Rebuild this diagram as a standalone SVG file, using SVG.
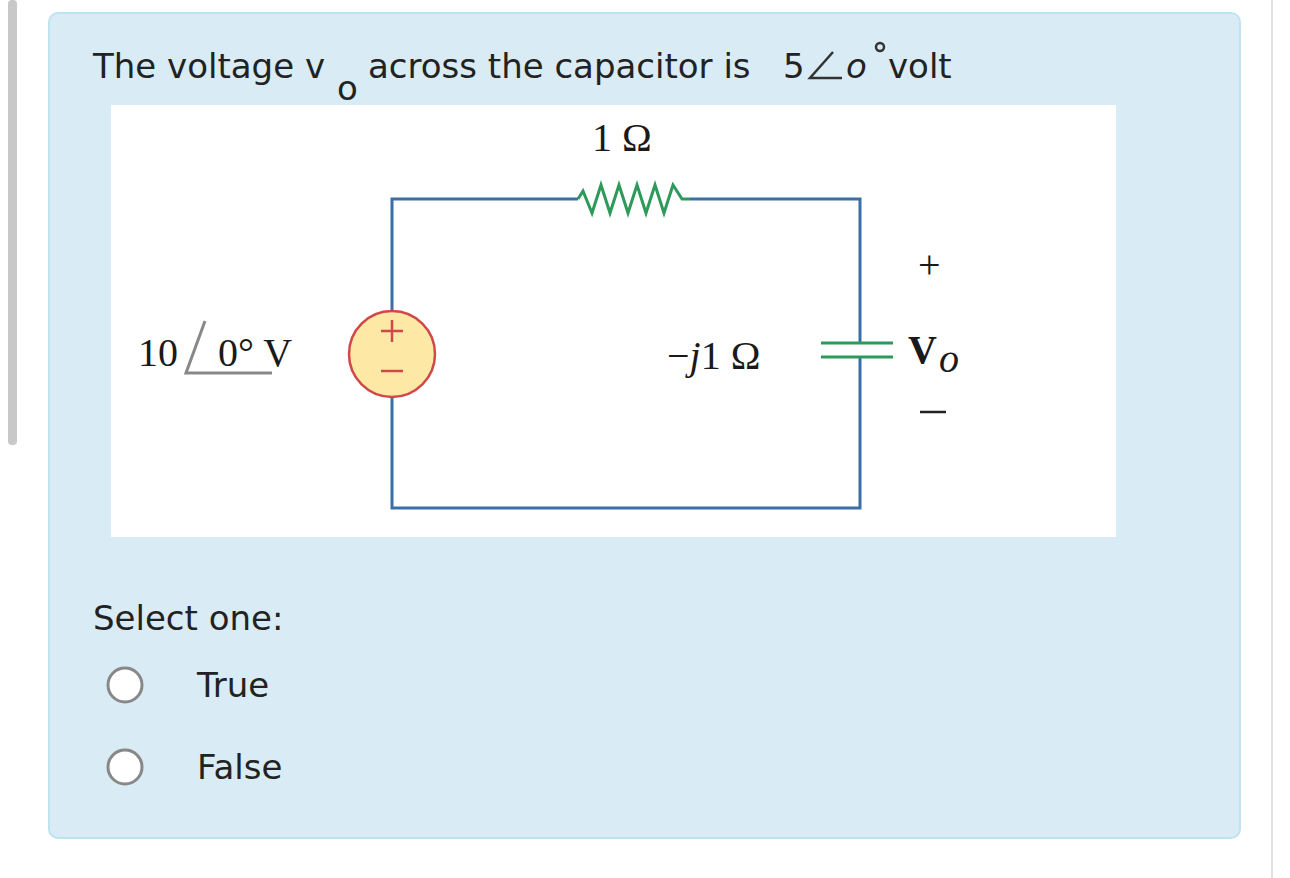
<svg xmlns="http://www.w3.org/2000/svg" width="1290" height="878" viewBox="0 0 1290 878">
<style>
.t{font-family:"DejaVu Sans",Verdana,sans-serif;fill:#222;font-size:34px}
.m{font-family:"Liberation Serif","Times New Roman",serif;fill:#1a1a1a;font-size:40px}
.w{stroke:#3b6fa8;stroke-width:3;fill:none}
.g{stroke:#2e9a5a;stroke-width:3;fill:none}
</style>
<rect width="1290" height="878" fill="#fff"/>
<rect x="8" y="0" width="9" height="445" rx="4" fill="#c8c8c8"/>
<line x1="1272" y1="0" x2="1272" y2="878" stroke="#e0e0e0" stroke-width="2"/>
<rect x="49" y="13" width="1191" height="825" rx="9" fill="#d9ecf5" stroke="#bde3ee" stroke-width="2"/>
<g id="question">
<text class="t" x="93" y="78">The voltage v</text>
<text class="t" x="337" y="100" font-size="26">o</text>
<text class="t" x="368" y="78">across the capacitor is</text>
<text class="t" x="783" y="78" font-size="40" fill="#333">5</text>
<path d="M833 52 L810 78 L842 78" stroke="#333" stroke-width="2.5" fill="none"/>
<text class="t" x="846" y="78" font-size="38" font-style="italic" fill="#333">o</text>
<circle cx="880" cy="47" r="4" fill="none" stroke="#333" stroke-width="2.5"/>
<text class="t" x="888" y="78">volt</text>
</g>
<rect x="111" y="105" width="1005" height="432" fill="#fff"/>
<g id="wires">
<path class="w" d="M578 199 H392 V310 M392 398 V508 H860 V357 M860 343 V199 H690"/>
</g>
<g id="resistor">
<path class="g" d="M578 199 L583 191 L592 213 L601 185 L610 213 L619 185 L628 213 L637 185 L646 213 L655 185 L664 213 L673 185 L682 199 L690 199" transform="translate(0,0) scale(1,1)"/>
<text class="m" x="592" y="151">1 Ω</text>
</g>
<g id="capacitor">
<line class="g" x1="821" y1="343" x2="893" y2="343"/>
<line class="g" x1="821" y1="357" x2="893" y2="357"/>
<text class="m" x="667" y="369">−<tspan font-style="italic">j</tspan>1 Ω</text>
<text class="m" x="918" y="278" font-size="34">+</text>
<text class="m" x="908" y="363" font-weight="bold">V</text>
<text class="m" x="939" y="372" font-size="26" font-style="italic">o</text>
<line x1="920" y1="412" x2="946" y2="412" stroke="#222" stroke-width="2.5"/>
</g>
<g id="source">
<circle cx="392" cy="354" r="43" fill="#fde8a6" stroke="#d04848" stroke-width="2.5"/>
<path d="M381 331 H403 M392 320 V342 M381 371 H403" stroke="#d04848" stroke-width="2.5"/>
<text class="m" x="138" y="366">10</text>
<path d="M205 321 L186 373 L272 373" stroke="#888" stroke-width="3" fill="none"/>
<text class="m" x="218" y="366">0° V</text>
</g>
<g id="options">
<text class="t" x="93" y="630">Select one:</text>
<circle cx="125" cy="685" r="17" fill="#fff" stroke="#888" stroke-width="3"/>
<text class="t" x="197" y="697" font-size="38">True</text>
<circle cx="125" cy="767" r="17" fill="#fff" stroke="#888" stroke-width="3"/>
<text class="t" x="197" y="779" font-size="38">False</text>
</g>
</svg>
